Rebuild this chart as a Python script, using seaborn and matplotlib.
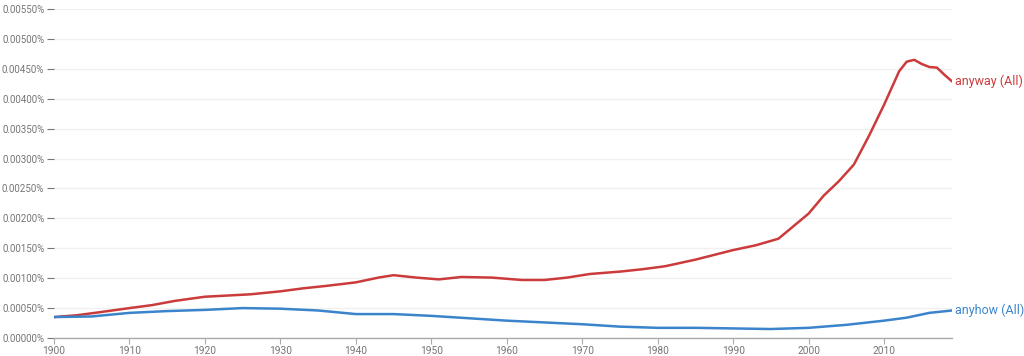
import matplotlib
matplotlib.use("Agg")
import matplotlib.pyplot as plt
import seaborn as sns
import pandas as pd
from matplotlib.ticker import FuncFormatter, FixedLocator

years_anyway = [1900, 1903, 1906, 1910, 1913, 1916, 1920, 1923, 1926, 1930, 1933, 1936,
                1940, 1943, 1945, 1948, 1951, 1954, 1958, 1962, 1965, 1968, 1971, 1975,
                1978, 1981, 1985, 1990, 1993, 1996, 2000, 2002, 2004, 2006, 2008, 2010,
                2012, 2013, 2014, 2015, 2016, 2017, 2018, 2019]
anyway = [0.00035, 0.00038, 0.00043, 0.00050, 0.00055, 0.00062, 0.00069, 0.00071, 0.00073,
          0.00078, 0.00083, 0.00087, 0.00093, 0.00101, 0.00105, 0.00101, 0.00098, 0.00102,
          0.00101, 0.00097, 0.00097, 0.00101, 0.00107, 0.00111, 0.00115, 0.00120, 0.00131,
          0.00147, 0.00155, 0.00166, 0.00208, 0.00238, 0.00262, 0.00290, 0.00338, 0.00390,
          0.00446, 0.00462, 0.00465, 0.00458, 0.00453, 0.00452, 0.00440, 0.00429]

years_anyhow = [1900, 1905, 1910, 1915, 1920, 1925, 1930, 1935, 1940, 1945, 1950, 1955,
                1960, 1965, 1970, 1975, 1980, 1985, 1990, 1995, 2000, 2005, 2010, 2013,
                2016, 2019]
anyhow = [0.00035, 0.00036, 0.00042, 0.00045, 0.00047, 0.00050, 0.00049, 0.00046, 0.00040,
          0.00040, 0.00037, 0.00033, 0.00029, 0.00026, 0.00023, 0.00019, 0.00017, 0.00017,
          0.00016, 0.00015, 0.00017, 0.00022, 0.00029, 0.00034, 0.00042, 0.00046]

y_ticks = [0.0, 0.0005, 0.0010, 0.0015, 0.0020, 0.0025, 0.0030, 0.0035, 0.0040, 0.0045,
           0.0050, 0.0055]
x_ticks = [1900, 1910, 1920, 1930, 1940, 1950, 1960, 1970, 1980, 1990, 2000, 2010]

label_anyway = "anyway (All)"
label_anyhow = "anyhow (All)"
red = "#cc3b3b"
blue = "#3b84cc"
gray = "#757575"

sns.set_theme(style="white")
plt.rcParams["font.family"] = ["Roboto", "DejaVu Sans"]

fig = plt.figure(figsize=(10.24, 3.56), dpi=100)
ax = fig.add_axes([54 / 1024, 18 / 356, (952 - 54) / 1024, (338 - 9) / 356])

df_a = pd.DataFrame({"year": years_anyway, "value": anyway})
df_h = pd.DataFrame({"year": years_anyhow, "value": anyhow})
sns.lineplot(data=df_a, x="year", y="value", ax=ax, color=red, linewidth=1.8)
sns.lineplot(data=df_h, x="year", y="value", ax=ax, color=blue, linewidth=1.8)

ax.set_xlim(1900, 2019)
ax.set_ylim(0, 0.0055)
ax.yaxis.set_major_locator(FixedLocator(y_ticks))
ax.xaxis.set_major_locator(FixedLocator(x_ticks))
ax.yaxis.set_major_formatter(FuncFormatter(lambda v, p: f"{v:.5f}%"))
ax.set_xlabel("")
ax.set_ylabel("")

ax.grid(axis="y", color="#f0f0f0", linewidth=1)
ax.set_axisbelow(True)
for s in ["top", "right", "left"]:
    ax.spines[s].set_visible(False)
ax.spines["bottom"].set_color("#aaaaaa")
ax.spines["bottom"].set_linewidth(1)

ax.tick_params(axis="y", which="major", left=True, length=5, width=0.8, color=gray,
               labelsize=7, labelcolor=gray, pad=2)
ax.tick_params(axis="x", which="major", bottom=True, length=4, width=0.8, color="#aaaaaa",
               labelsize=7.3, labelcolor=gray, pad=2)

ax.text(2019.4, anyway[-1], label_anyway, color=red, fontsize=9, va="center", ha="left",
        clip_on=False)
ax.text(2019.4, anyhow[-1], label_anyhow, color=blue, fontsize=9, va="center", ha="left",
        clip_on=False)

fig.savefig("out.png", dpi=100)
